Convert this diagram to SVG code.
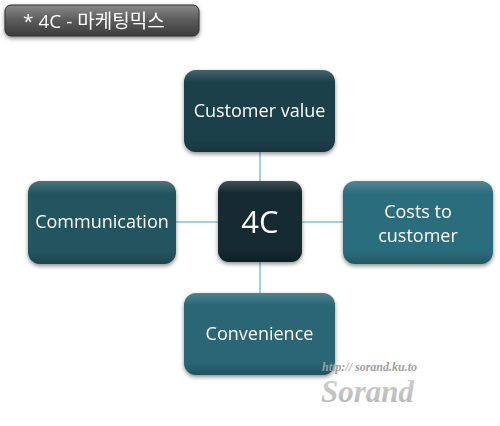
<svg xmlns="http://www.w3.org/2000/svg" width="500" height="426" viewBox="0 0 500 426">
<defs>
<linearGradient id="gTitle" x1="0" y1="0" x2="0" y2="1">
<stop offset="0" stop-color="#8a8a8a"/>
<stop offset="0.5" stop-color="#5a5a5a"/>
<stop offset="1" stop-color="#3c3c3c"/>
</linearGradient>
<filter id="sh" x="-20%" y="-20%" width="140%" height="150%">
<feGaussianBlur in="SourceAlpha" stdDeviation="2"/>
<feOffset dx="0" dy="2" result="b"/>
<feComponentTransfer><feFuncA type="linear" slope="0.45"/></feComponentTransfer>
<feMerge><feMergeNode/><feMergeNode in="SourceGraphic"/></feMerge>
</filter>
<linearGradient id="hl" x1="0" y1="0" x2="0" y2="1">
<stop offset="0" stop-color="#ffffff" stop-opacity="0.18"/>
<stop offset="0.15" stop-color="#ffffff" stop-opacity="0"/>
<stop offset="0.85" stop-color="#000000" stop-opacity="0"/>
<stop offset="1" stop-color="#000000" stop-opacity="0.2"/>
</linearGradient>
<linearGradient id="wm" x1="0" y1="0" x2="0" y2="1">
<stop offset="0" stop-color="#d4d4d4"/>
<stop offset="1" stop-color="#b4b4b4"/>
</linearGradient>
</defs>
<style>
.lbl{font-family:"Open Sans","Noto Sans","DejaVu Sans",sans-serif;fill:#ffffff;text-anchor:middle;font-size:18px}
.conn{stroke:#7cc6da;stroke-width:1.5;fill:none}
</style>
<rect width="500" height="426" fill="#ffffff"/>
<g id="title" filter="url(#sh)">
<rect x="5" y="5" width="194" height="31" rx="6" fill="url(#gTitle)" stroke="#2e2e2e" stroke-width="1"/>
<text x="23" y="28" font-family="'Open Sans','Noto Sans CJK KR',sans-serif" font-size="19" fill="#ffffff">* 4C - 마케팅믹스</text>
</g>
<g id="connectors">
<line class="conn" x1="260" y1="152" x2="260" y2="181"/>
<line class="conn" x1="260" y1="262" x2="260" y2="293"/>
<line class="conn" x1="176" y1="222" x2="218" y2="222"/>
<line class="conn" x1="302" y1="222" x2="343" y2="222"/>
</g>
<g id="node-customer-value" filter="url(#sh)">
<rect x="184" y="70" width="151" height="82" rx="12" fill="#1e404a"/>
<rect x="184" y="70" width="151" height="82" rx="12" fill="url(#hl)"/>
<text class="lbl" x="259.5" y="117">Customer value</text>
</g>
<g id="node-communication" filter="url(#sh)">
<rect x="28" y="181" width="148" height="83" rx="12" fill="#245560"/>
<rect x="28" y="181" width="148" height="83" rx="12" fill="url(#hl)"/>
<text class="lbl" x="102" y="228">Communication</text>
</g>
<g id="node-4c" filter="url(#sh)">
<rect x="218" y="181" width="84" height="81" rx="11" fill="#132a30"/>
<rect x="218" y="181" width="84" height="81" rx="11" fill="url(#hl)"/>
<text class="lbl" x="260" y="233" style="font-size:31px">4C</text>
</g>
<g id="node-costs" filter="url(#sh)">
<rect x="343" y="181" width="150" height="83" rx="12" fill="#2c6d7c"/>
<rect x="343" y="181" width="150" height="83" rx="12" fill="url(#hl)"/>
<text class="lbl" x="418" y="218">Costs to</text>
<text class="lbl" x="418" y="242">customer</text>
</g>
<g id="node-convenience" filter="url(#sh)">
<rect x="184" y="293" width="151" height="82" rx="12" fill="#2a6676"/>
<rect x="184" y="293" width="151" height="82" rx="12" fill="url(#hl)"/>
<text class="lbl" x="259.5" y="340">Convenience</text>
</g>
<g id="watermark">
<text x="322" y="371" font-family="'Liberation Serif',serif" font-style="italic" font-weight="bold" font-size="12" fill="#a0a0a0">http:// sorand.ku.to</text>
<text x="321" y="402" font-family="'Liberation Serif',serif" font-style="italic" font-weight="bold" font-size="31" fill="url(#wm)">Sorand</text>
</g>
</svg>
